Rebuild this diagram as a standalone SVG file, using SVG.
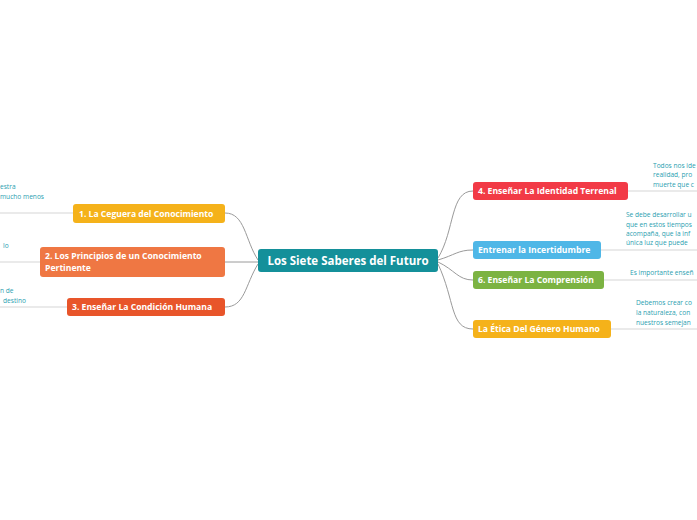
<svg xmlns="http://www.w3.org/2000/svg" width="697" height="520" viewBox="0 0 697 520">
<style>
.n{font-family:"Open Sans","DejaVu Sans",sans-serif;font-weight:bold;font-size:8.6px;fill:#fff}
.c{font-family:"Open Sans","DejaVu Sans",sans-serif;font-weight:bold;font-size:11.5px;fill:#fff}
.t{font-family:"Open Sans","DejaVu Sans",sans-serif;font-size:6.6px;fill:#2aa0b0}
.l{fill:none;stroke:#9a9a9a;stroke-width:1}
.s{fill:none;stroke:#d6d6d6;stroke-width:1.2}
</style>
<rect width="697" height="520" fill="#fff"/>
<g id="connectors">
<path class="l" d="M258,260 C245,240 245,213 225,213"/>
<path class="l" d="M258,262 L225,262"/>
<path class="l" d="M258,264 C245,285 245,307 225,307"/>
<path class="l" d="M438,258 C455,230 450,191 473,191"/>
<path class="l" d="M438,260 C455,255 458,250 473,250"/>
<path class="l" d="M438,262 C455,270 458,280 473,280"/>
<path class="l" d="M438,264 C455,300 450,329 473,329"/>
<path class="s" d="M73,213 H0 M40,262 H0 M67,307 H0 M628,191 H697 M601,250 H697 M604,280 H697 M611,329 H697"/>
</g>
<g id="center"><rect x="258" y="249" width="180" height="23" rx="3" fill="#14909a"/><text class="c" x="348" y="264.5" text-anchor="middle">Los Siete Saberes del Futuro</text></g>
<g id="n1"><rect x="73" y="204" width="152" height="19" rx="3" fill="#f5b21a"/><text class="n" x="79" y="216.5">1. La Ceguera del Conocimiento</text></g>
<g id="n2"><rect x="40" y="247" width="185" height="30" rx="3" fill="#ef7743"/><text class="n" x="45" y="259">2. Los Principios de un Conocimiento</text><text class="n" x="45" y="271">Pertinente</text></g>
<g id="n3"><rect x="67" y="298" width="158" height="18" rx="3" fill="#e8552a"/><text class="n" x="72" y="310">3. Enseñar La Condición Humana</text></g>
<g id="n4"><rect x="473" y="182" width="155" height="18" rx="3" fill="#f23a46"/><text class="n" x="478" y="194">4. Enseñar La Identidad Terrenal</text></g>
<g id="n5"><rect x="473" y="241" width="128" height="18" rx="3" fill="#4fb7e7"/><text class="n" x="478" y="253">Entrenar la Incertidumbre</text></g>
<g id="n6"><rect x="473" y="271" width="131" height="18" rx="3" fill="#7cb342"/><text class="n" x="478" y="283">6. Enseñar La Comprensión</text></g>
<g id="n7"><rect x="473" y="320" width="138" height="18" rx="3" fill="#f5b21a"/><text class="n" x="478" y="332">La Ética Del Género Humano</text></g>
<g id="labels">
<text class="t" x="0" y="189">estra</text><text class="t" x="0" y="199">mucho menos</text>
<text class="t" x="3" y="248">lo</text>
<text class="t" x="0" y="293">n de</text><text class="t" x="3" y="303">destino</text>
<text class="t" x="653" y="168">Todos nos ide</text><text class="t" x="653" y="177">realidad, pro</text><text class="t" x="653" y="187">muerte que c</text>
<text class="t" x="626" y="217">Se debe desarrollar u</text><text class="t" x="626" y="227">que en estos tiempos</text><text class="t" x="626" y="236">acompaña, que la inf</text><text class="t" x="626" y="245">única luz que puede</text>
<text class="t" x="630" y="275">Es importante enseñ</text>
<text class="t" x="636" y="305">Debemos  crear co</text><text class="t" x="636" y="315">la naturaleza, con</text><text class="t" x="636" y="325">nuestros semejan</text>
</g>
</svg>
